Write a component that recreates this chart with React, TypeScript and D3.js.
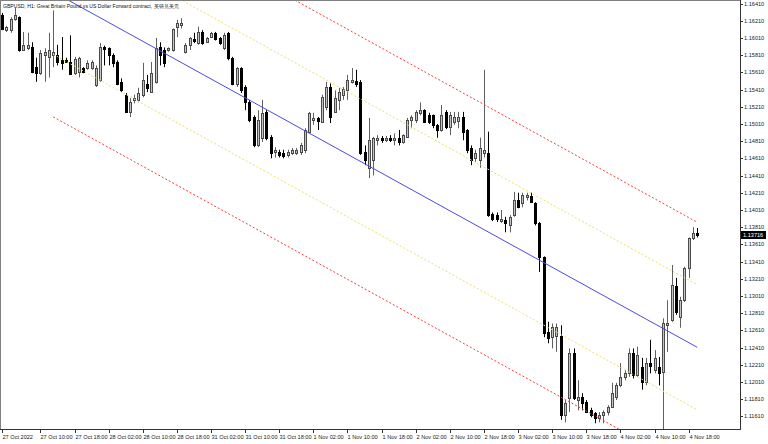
import React from "react";
import * as d3 from "d3";

const title = "GBPUSD, H1:  Great Britain Pound vs US Dollar Forward contract, 英镑兑美元";

const openP = [
  1.1628, 1.1610, 1.1610, 1.1623, 1.1625, 1.1587, 1.1589, 1.1590, 1.1567, 1.1560,
  1.1581, 1.1579, 1.1581, 1.1581, 1.1575, 1.1575, 1.1573, 1.1560, 1.1561, 1.1566,
  1.1566, 1.1566, 1.1546, 1.1552, 1.1590, 1.1589, 1.1581, 1.1573, 1.1550, 1.1535,
  1.1515, 1.1529, 1.1529, 1.1535, 1.1548, 1.1538, 1.1550, 1.1590, 1.1587, 1.1587,
  1.1587, 1.1614, 1.1616, 1.1585, 1.1593, 1.1600, 1.1595, 1.1608, 1.1596, 1.1602,
  1.1607, 1.1601, 1.1589, 1.1607, 1.1578, 1.1548, 1.1566, 1.1544, 1.1526, 1.1509,
  1.1476, 1.1485, 1.1515, 1.1486, 1.1468, 1.1468, 1.1467, 1.1465, 1.1467, 1.1467,
  1.1468, 1.1471, 1.1492, 1.1505, 1.1508, 1.1503, 1.1521, 1.1544, 1.1515, 1.1529,
  1.1535, 1.1540, 1.1550, 1.1551, 1.1550, 1.1468, 1.1450, 1.1459, 1.1482, 1.1485,
  1.1482, 1.1485, 1.1482, 1.1485, 1.1480, 1.1486, 1.1505, 1.1505, 1.1514, 1.1517,
  1.1511, 1.1511, 1.1500, 1.1494, 1.1515, 1.1497, 1.1503, 1.1504, 1.1509, 1.1494,
  1.1473, 1.1461, 1.1459, 1.1467, 1.1467, 1.1396, 1.1395, 1.1388, 1.1389, 1.1383,
  1.1395, 1.1412, 1.1409, 1.1416, 1.1417, 1.1409, 1.1386, 1.1346, 1.1259, 1.1253,
  1.1255, 1.1255, 1.1162, 1.1182, 1.1235, 1.1180, 1.1183, 1.1178, 1.1168, 1.1165,
  1.1159, 1.1162, 1.1166, 1.1172, 1.1183, 1.1197, 1.1207, 1.1211, 1.1235, 1.1209,
  1.1218, 1.1201, 1.1223, 1.1215, 1.1218, 1.1212, 1.1267, 1.1273, 1.1312, 1.1276,
  1.1296, 1.1333, 1.1368, 1.1374,
];

const highP = [
  1.1630, 1.1615, 1.1625, 1.1636, 1.1626, 1.1608, 1.1607, 1.1596, 1.1578, 1.1587,
  1.1589, 1.1607, 1.1633, 1.1593, 1.1602, 1.1578, 1.1604, 1.1579, 1.1579, 1.1567,
  1.1575, 1.1575, 1.1569, 1.1595, 1.1592, 1.1590, 1.1583, 1.1575, 1.1554, 1.1537,
  1.1531, 1.1535, 1.1543, 1.1572, 1.1558, 1.1573, 1.1601, 1.1596, 1.1590, 1.1590,
  1.1612, 1.1622, 1.1624, 1.1595, 1.1602, 1.1607, 1.1614, 1.1610, 1.1602, 1.1608,
  1.1608, 1.1602, 1.1607, 1.1608, 1.1579, 1.1567, 1.1567, 1.1546, 1.1529, 1.1511,
  1.1517, 1.1529, 1.1517, 1.1488, 1.1474, 1.1471, 1.1471, 1.1471, 1.1473, 1.1473,
  1.1479, 1.1496, 1.1515, 1.1514, 1.1509, 1.1535, 1.1550, 1.1548, 1.1540, 1.1543,
  1.1544, 1.1558, 1.1566, 1.1564, 1.1552, 1.1476, 1.1508, 1.1486, 1.1488, 1.1487,
  1.1487, 1.1488, 1.1490, 1.1494, 1.1489, 1.1508, 1.1511, 1.1517, 1.1526, 1.1518,
  1.1514, 1.1512, 1.1501, 1.1523, 1.1517, 1.1515, 1.1515, 1.1515, 1.1515, 1.1495,
  1.1476, 1.1471, 1.1485, 1.1564, 1.1492, 1.1398, 1.1398, 1.1401, 1.1393, 1.1395,
  1.1422, 1.1421, 1.1421, 1.1421, 1.1421, 1.1410, 1.1387, 1.1347, 1.1271, 1.1269,
  1.1269, 1.1267, 1.1180, 1.1240, 1.1240, 1.1203, 1.1188, 1.1180, 1.1171, 1.1166,
  1.1166, 1.1168, 1.1174, 1.1200, 1.1200, 1.1223, 1.1215, 1.1240, 1.1240, 1.1242,
  1.1229, 1.1229, 1.1250, 1.1238, 1.1230, 1.1275, 1.1296, 1.1337, 1.1322, 1.1300,
  1.1335, 1.1369, 1.1381, 1.1380,
];

const lowP = [
  1.1610, 1.1608, 1.1607, 1.1621, 1.1585, 1.1586, 1.1587, 1.1560, 1.1550, 1.1558,
  1.1550, 1.1555, 1.1567, 1.1569, 1.1564, 1.1572, 1.1558, 1.1558, 1.1555, 1.1560,
  1.1564, 1.1564, 1.1544, 1.1550, 1.1569, 1.1569, 1.1567, 1.1546, 1.1538, 1.1514,
  1.1509, 1.1525, 1.1526, 1.1532, 1.1538, 1.1537, 1.1548, 1.1569, 1.1567, 1.1585,
  1.1585, 1.1602, 1.1612, 1.1583, 1.1587, 1.1595, 1.1593, 1.1593, 1.1595, 1.1601,
  1.1598, 1.1593, 1.1587, 1.1575, 1.1546, 1.1544, 1.1537, 1.1517, 1.1503, 1.1474,
  1.1474, 1.1480, 1.1482, 1.1461, 1.1462, 1.1462, 1.1461, 1.1462, 1.1465, 1.1465,
  1.1465, 1.1467, 1.1490, 1.1500, 1.1494, 1.1502, 1.1517, 1.1502, 1.1514, 1.1517,
  1.1529, 1.1529, 1.1548, 1.1544, 1.1465, 1.1453, 1.1438, 1.1441, 1.1476, 1.1479,
  1.1480, 1.1480, 1.1476, 1.1476, 1.1478, 1.1485, 1.1496, 1.1502, 1.1511, 1.1502,
  1.1501, 1.1496, 1.1485, 1.1492, 1.1495, 1.1488, 1.1500, 1.1496, 1.1482, 1.1467,
  1.1453, 1.1457, 1.1450, 1.1462, 1.1393, 1.1388, 1.1387, 1.1386, 1.1375, 1.1375,
  1.1393, 1.1403, 1.1404, 1.1412, 1.1409, 1.1383, 1.1329, 1.1253, 1.1246, 1.1240,
  1.1236, 1.1157, 1.1154, 1.1166, 1.1180, 1.1168, 1.1168, 1.1165, 1.1160, 1.1153,
  1.1154, 1.1153, 1.1162, 1.1171, 1.1180, 1.1195, 1.1203, 1.1207, 1.1205, 1.1207,
  1.1192, 1.1197, 1.1211, 1.1211, 1.1197, 1.1144, 1.1236, 1.1271, 1.1279, 1.1264,
  1.1294, 1.1322, 1.1366, 1.1369,
];

const closeP = [
  1.1611, 1.1614, 1.1623, 1.1628, 1.1587, 1.1593, 1.1593, 1.1561, 1.1560, 1.1583,
  1.1585, 1.1587, 1.1585, 1.1573, 1.1572, 1.1573, 1.1559, 1.1576, 1.1578, 1.1561,
  1.1572, 1.1573, 1.1566, 1.1590, 1.1588, 1.1581, 1.1572, 1.1548, 1.1540, 1.1515,
  1.1526, 1.1531, 1.1537, 1.1552, 1.1543, 1.1560, 1.1589, 1.1581, 1.1572, 1.1589,
  1.1611, 1.1618, 1.1618, 1.1593, 1.1601, 1.1597, 1.1608, 1.1595, 1.1601, 1.1607,
  1.1600, 1.1595, 1.1604, 1.1578, 1.1548, 1.1566, 1.1540, 1.1526, 1.1505, 1.1476,
  1.1505, 1.1514, 1.1485, 1.1467, 1.1471, 1.1465, 1.1464, 1.1468, 1.1471, 1.1471,
  1.1476, 1.1494, 1.1514, 1.1508, 1.1504, 1.1532, 1.1544, 1.1509, 1.1531, 1.1538,
  1.1542, 1.1552, 1.1552, 1.1548, 1.1467, 1.1459, 1.1482, 1.1485, 1.1485, 1.1482,
  1.1485, 1.1482, 1.1485, 1.1480, 1.1488, 1.1505, 1.1509, 1.1515, 1.1517, 1.1503,
  1.1503, 1.1500, 1.1494, 1.1511, 1.1497, 1.1511, 1.1509, 1.1509, 1.1492, 1.1471,
  1.1459, 1.1467, 1.1473, 1.1471, 1.1395, 1.1390, 1.1390, 1.1391, 1.1386, 1.1393,
  1.1412, 1.1404, 1.1418, 1.1418, 1.1410, 1.1386, 1.1346, 1.1258, 1.1252, 1.1265,
  1.1265, 1.1162, 1.1176, 1.1235, 1.1182, 1.1183, 1.1176, 1.1166, 1.1162, 1.1159,
  1.1162, 1.1166, 1.1172, 1.1188, 1.1197, 1.1207, 1.1211, 1.1235, 1.1209, 1.1232,
  1.1201, 1.1223, 1.1219, 1.1229, 1.1211, 1.1269, 1.1269, 1.1314, 1.1282, 1.1296,
  1.1333, 1.1368, 1.1374, 1.13716,
];

const currentPrice = 1.13716;

const timeTickBars = [0, 9, 17, 25, 33, 41, 49, 57, 65, 73, 81, 89, 97, 105, 113, 121, 129, 137, 145, 153, 161];
const timeTickLabels = [
  "27 Oct 2022", "27 Oct 10:00", "27 Oct 18:00", "28 Oct 02:00", "28 Oct 10:00", "28 Oct 18:00",
  "31 Oct 02:00", "31 Oct 10:00", "31 Oct 18:00", "1 Nov 02:00", "1 Nov 10:00", "1 Nov 18:00",
  "2 Nov 02:00", "2 Nov 10:00", "2 Nov 18:00", "3 Nov 02:00", "3 Nov 10:00", "3 Nov 18:00",
  "4 Nov 02:00", "4 Nov 10:00", "4 Nov 18:00",
];

const priceTicks = [
  1.1641, 1.1621, 1.1601, 1.1581, 1.1561, 1.1541, 1.1521, 1.1501, 1.1481, 1.1461,
  1.1441, 1.1421, 1.1401, 1.1381, 1.1361, 1.1341, 1.1321, 1.1301, 1.1281, 1.1261,
  1.1241, 1.1221, 1.1201, 1.1181, 1.1161,
];

// regression channel (center line + two deviation levels)
const channelBars = [12, 163];
const channelCenter = [1.16546, 1.12413];
const channelInnerDev = 0.00727;
const channelOuterDev = 0.01454;

const W = 768;
const H = 444;
const PR = 740; // plot right
const PB = 429; // plot bottom

export default function App() {
  const x = d3.scaleLinear().domain([0, 163]).range([2, 697.2]);
  const y = d3.scaleLinear().domain([1.11463, 1.16451]).range([PB, 0]);

  const font = "'Liberation Sans', Arial, sans-serif";
  const fs = 5.6;

  const candles = openP.map((o, i) => {
    const c = closeP[i];
    const h = Math.max(highP[i], o, c);
    const l = Math.min(lowP[i], o, c);
    const cx = Math.round(x(i)) + 0.5;
    const bull = c >= o;
    const yTop = Math.round(y(Math.max(o, c)));
    const yBot = Math.round(y(Math.min(o, c)));
    const bh = Math.max(yBot - yTop, 0);
    return (
      <g key={i}>
        <line x1={cx} x2={cx} y1={y(h)} y2={y(l)} stroke={bull ? "#606060" : "#000"} strokeWidth={1} />
        {bh >= 1 ? (
          <rect
            x={cx - 1}
            y={yTop + 0.5}
            width={2}
            height={bh}
            fill={bull ? "#c4c4c4" : "#000"}
            stroke={bull ? "#4a4a4a" : "#000"}
            strokeWidth={1}
          />
        ) : (
          <line x1={cx - 1.5} x2={cx + 1.5} y1={yTop + 0.5} y2={yTop + 0.5} stroke={bull ? "#4a4a4a" : "#000"} strokeWidth={1} />
        )}
      </g>
    );
  });

  const chanLine = (off: number) => {
    const x1 = x(channelBars[0]);
    const x2 = x(channelBars[1]);
    return { x1, x2, y1: y(channelCenter[0] + off), y2: y(channelCenter[1] + off) };
  };

  const lines = [
    { off: channelOuterDev, color: "#ff3b3b", dash: "2,2", w: 1 },
    { off: -channelOuterDev, color: "#ff3b3b", dash: "2,2", w: 1 },
    { off: channelInnerDev, color: "#ecdf6a", dash: "2,2", w: 1 },
    { off: -channelInnerDev, color: "#ecdf6a", dash: "2,2", w: 1 },
    { off: 0, color: "#4a4ae8", dash: undefined, w: 1 },
  ];

  const cy = Math.round(y(currentPrice));

  return (
    <svg
      width={W}
      height={H}
      style={{ position: "absolute", left: 0, top: 0, display: "block", background: "#fff" }}
    >
      <defs>
        <clipPath id="plotClip">
          <rect x={0} y={0} width={PR} height={PB} />
        </clipPath>
      </defs>
      <rect x={0} y={0} width={W} height={H} fill="#fff" />

      <g clipPath="url(#plotClip)">{candles}</g>

      <g clipPath="url(#plotClip)">
        {lines.map((l, i) => {
          const p = chanLine(l.off);
          return (
            <line key={i} {...p} stroke={l.color} strokeWidth={l.w} strokeDasharray={l.dash} />
          );
        })}
      </g>

      {/* frame */}
      <line x1={0.5} x2={0.5} y1={0} y2={PB} stroke="#808080" />
      <line x1={0} x2={PR} y1={0.5} y2={0.5} stroke="#808080" />
      <line x1={PR + 0.5} x2={PR + 0.5} y1={0} y2={PB + 1} stroke="#333" />
      <line x1={0} x2={PR + 1} y1={PB + 0.5} y2={PB + 0.5} stroke="#333" />

      {/* price axis */}
      {priceTicks.map((p, i) => {
        const yy = Math.round(y(p)) + 0.5;
        return (
          <g key={i}>
            <line x1={PR} x2={PR + 3} y1={yy} y2={yy} stroke="#333" />
            <text x={PR + 4} y={yy} dy="0.35em" fontSize={fs} fontFamily={font} fill="#222">
              {p.toFixed(5)}
            </text>
          </g>
        );
      })}
      <rect x={PR + 1} y={cy - 4} width={25} height={8} fill="#000" />
      <text x={PR + 3} y={cy} dy="0.35em" fontSize={fs} fontFamily={font} fill="#fff">
        {currentPrice.toFixed(5)}
      </text>

      {/* time axis */}
      {timeTickBars.map((b, i) => {
        const xx = Math.round(x(b)) + 0.5;
        return (
          <g key={i}>
            <line x1={xx} x2={xx} y1={PB} y2={PB + 4} stroke="#333" />
            <text x={xx} y={PB + 10} fontSize={fs} fontFamily={font} fill="#222">
              {timeTickLabels[i]}
            </text>
          </g>
        );
      })}

      <text x={3} y={8} fontSize={5.1} fontFamily={font} fill="#111">
        {title}
      </text>
    </svg>
  );
}
